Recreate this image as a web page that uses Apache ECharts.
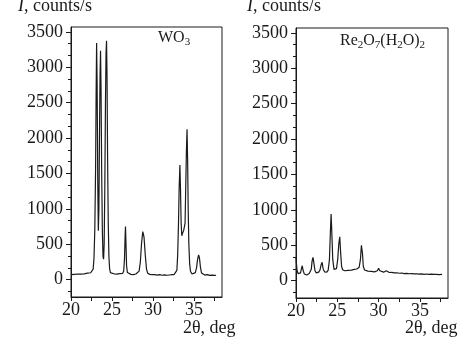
<!DOCTYPE html>
<html>
<head>
<meta charset="utf-8">
<script src="https://cdn.jsdelivr.net/npm/echarts@6/dist/echarts.min.js"></script>
<style>
html,body{margin:0;padding:0;background:#fff;}
#c{width:474px;height:347px;}
</style>
</head>
<body>
<div id="c"></div>
<script>
// ---- data ----
const xTickLabels = [20, 25, 30, 35];
const xTicks = [20, 22.5, 25, 27.5, 30, 32.5, 35, 37.5];
const yTickLabels = [0, 500, 1000, 1500, 2000, 2500, 3000, 3500];
const yMinorTicks = [-166.67, 166.67, 333.33, 666.67, 833.33, 1166.67, 1333.33, 1666.67, 1833.33, 2166.67, 2333.33, 2666.67, 2833.33, 3166.67, 3333.33];

const wo3TwoTheta = [20.0,20.2,20.4,20.6,20.8,21.0,21.2,21.4,21.6,21.8,22.0,22.2,22.4,22.55,22.7,22.8,22.9,23.0,23.06,23.12,23.18,23.26,23.33,23.4,23.47,23.54,23.6,23.66,23.74,23.82,23.9,23.97,24.04,24.12,24.2,24.27,24.33,24.39,24.46,24.54,24.62,24.7,24.8,25.0,25.3,25.6,25.9,26.1,26.3,26.42,26.52,26.59,26.64,26.69,26.77,26.87,27.0,27.3,27.6,27.9,28.1,28.3,28.45,28.6,28.75,28.9,29.05,29.2,29.35,29.6,29.9,30.2,30.5,30.8,31.1,31.4,31.7,32.0,32.3,32.55,32.75,32.9,33.0,33.1,33.18,33.27,33.34,33.42,33.5,33.58,33.66,33.74,33.82,33.9,33.98,34.06,34.14,34.21,34.28,34.36,34.46,34.56,34.75,34.95,35.15,35.3,35.43,35.55,35.65,35.77,35.9,36.05,36.3,36.6,36.9,37.2,37.5,37.68];
const wo3Counts = [72,66,76,70,80,72,78,70,82,88,92,84,98,110,150,300,700,1600,2600,3345,2800,1400,690,1000,2000,2900,3235,2700,1500,700,330,290,500,1300,2500,3200,3375,2900,1700,800,330,160,100,85,80,78,85,82,90,120,300,600,750,550,200,100,80,75,72,80,85,120,250,520,680,600,350,150,90,75,70,72,65,70,62,68,62,66,70,72,85,130,350,800,1300,1620,1300,800,620,650,630,700,680,800,1300,1800,2125,1700,1000,500,220,120,80,85,100,170,290,350,310,180,95,70,65,72,60,65,60,62];

const reTwoTheta = [20.0,20.05,20.12,20.25,20.4,20.55,20.68,20.76,20.85,21.0,21.15,21.3,21.45,21.6,21.75,21.85,21.95,22.06,22.15,22.3,22.45,22.58,22.75,22.9,23.05,23.16,23.28,23.45,23.6,23.73,23.9,24.05,24.15,24.25,24.33,24.45,24.6,24.73,24.9,25.05,25.18,25.3,25.4,25.52,25.65,25.74,25.9,26.1,26.3,26.5,26.7,26.9,27.05,27.2,27.35,27.5,27.65,27.8,27.92,27.97,28.05,28.15,28.3,28.5,28.7,28.9,29.1,29.3,29.5,29.7,29.85,30.0,30.07,30.15,30.35,30.6,30.8,30.92,31.05,31.3,31.6,31.9,32.2,32.5,32.8,33.1,33.4,33.7,34.0,34.3,34.6,34.9,35.2,35.5,35.8,36.1,36.4,36.7,37.0,37.3,37.68];
const reCounts = [330,250,150,100,85,110,180,210,150,95,85,80,95,100,110,160,280,330,260,140,110,105,120,150,230,260,170,125,115,120,150,300,650,940,700,300,160,140,170,300,520,620,400,200,155,150,140,150,145,155,150,165,160,175,165,170,190,300,500,515,380,200,150,140,135,140,130,135,125,130,140,175,180,140,125,120,130,140,120,115,118,110,112,105,108,100,104,98,100,95,98,92,95,90,94,88,92,88,90,86,90];

const yTitle = 'I';
const xTitle = '2θ, deg';

// ---- chart ----
const FONT = '"Liberation Serif", "Times New Roman", serif';
const INK = '#1a1a1a';
const pair = (xs, ys) => xs.map((x, i) => [x, ys[i]]);

const grids = [
  {left: 71, top: 27, width: 151, height: 270},
  {left: 296, top: 28, width: 152, height: 270}
];

function xAx(gi) {
  return {
    type: 'value', gridIndex: gi, min: 20, max: 38.4,
    axisLine: {show: true, onZero: false, lineStyle: {color: INK, width: 1}},
    axisTick: {show: true, inside: false, length: 4, customValues: xTicks, lineStyle: {color: INK}},
    axisLabel: {show: true, customValues: xTickLabels, margin: 4, color: INK, fontFamily: FONT, fontSize: 18, formatter: v => String(v)},
    splitLine: {show: false}
  };
}
function yAxMajor(gi) {
  return {
    type: 'value', gridIndex: gi, min: -245, max: 3570, position: 'left',
    axisLine: {show: true, onZero: false, lineStyle: {color: INK, width: 1}},
    axisTick: {show: true, inside: false, length: 5, customValues: yTickLabels, lineStyle: {color: INK}},
    axisLabel: {show: true, customValues: yTickLabels, margin: 8, color: INK, fontFamily: FONT, fontSize: 18, formatter: v => String(v)},
    splitLine: {show: false}
  };
}
function yAxMinor(gi) {
  return {
    type: 'value', gridIndex: gi, min: -245, max: 3570, position: 'left',
    axisLine: {show: false},
    axisTick: {show: true, inside: false, length: 3, customValues: yMinorTicks, lineStyle: {color: INK}},
    axisLabel: {show: false},
    splitLine: {show: false}
  };
}

const titleRich = {
  it: {fontFamily: FONT, fontSize: 18, fontStyle: 'italic', fontWeight: 'normal', color: INK},
  n: {fontFamily: FONT, fontSize: 18, fontWeight: 'normal', color: INK}
};
const subRich = {
  n: {fontFamily: FONT, fontSize: 16, fontWeight: 'normal', color: INK, lineHeight: 20},
  s: {fontFamily: FONT, fontSize: 11, fontWeight: 'normal', color: INK, lineHeight: 11, padding: [9, 0, 0, 0]}
};
const tStyle = r => ({fontWeight: 'normal', fontFamily: FONT, color: INK, rich: r});

const option = {
  animation: false,
  backgroundColor: '#fff',
  grid: grids.map(g => Object.assign({show: true, borderColor: INK, borderWidth: 1, backgroundColor: 'transparent'}, g)),
  xAxis: [xAx(0), xAx(1)],
  yAxis: [yAxMajor(0), yAxMajor(1), yAxMinor(0), yAxMinor(1)],
  title: [
    {text: '{it|' + yTitle + '}{n|, counts/s}', left: 18, top: -3, padding: 0, textStyle: tStyle(titleRich)},
    {text: '{it|' + yTitle + '}{n|, counts/s}', left: 247, top: -3, padding: 0, textStyle: tStyle(titleRich)},
    {text: '{n|' + xTitle + '}', left: 183, top: 319, padding: 0, textStyle: tStyle(titleRich)},
    {text: '{n|' + xTitle + '}', left: 405, top: 319, padding: 0, textStyle: tStyle(titleRich)},
    {text: '{n|WO}{s|3}', left: 158, top: 28, padding: 0, textStyle: tStyle(subRich)},
    {text: '{n|Re}{s|2}{n|O}{s|7}{n|(H}{s|2}{n|O)}{s|2}', left: 340, top: 31, padding: 0, textStyle: tStyle(subRich)}
  ],
  series: [
    {type: 'line', xAxisIndex: 0, yAxisIndex: 0, data: pair(wo3TwoTheta, wo3Counts), showSymbol: false, symbol: 'none', lineStyle: {color: INK, width: 1.2}},
    {type: 'line', xAxisIndex: 1, yAxisIndex: 1, data: pair(reTwoTheta, reCounts), showSymbol: false, symbol: 'none', lineStyle: {color: INK, width: 1.2}}
  ]
};

const chart = echarts.init(document.getElementById('c'), null, {renderer: 'canvas'});
chart.setOption(option);
</script>
</body>
</html>
